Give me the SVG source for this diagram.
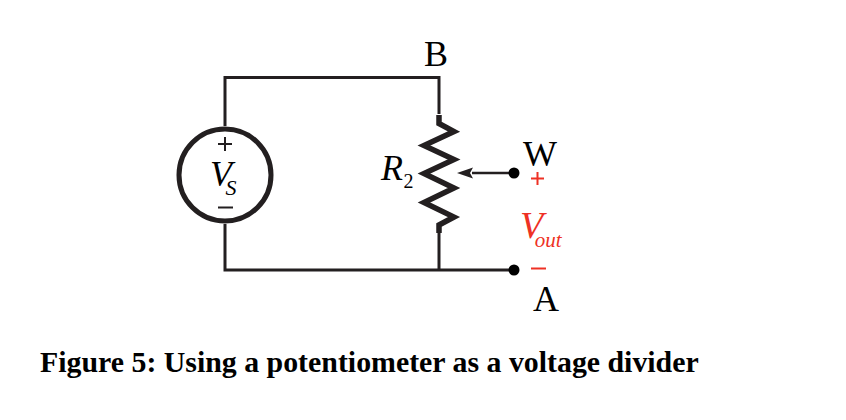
<svg xmlns="http://www.w3.org/2000/svg" width="846" height="420" viewBox="0 0 846 420">
<style>
text{font-family:"Liberation Serif","Times New Roman",serif;fill:#000}
.i{font-style:italic}
.r{fill:#ee3124}
.w{fill:none;stroke:#231f20;stroke-width:3}
</style>
<rect width="846" height="420" fill="#fff"/>
<g id="connectors">
<path class="w" d="M225 126V77.500H439V114"/>
<path class="w" d="M225 224V270H514"/>
<path class="w" d="M439 228V270"/>
<path d="M514 173H472" fill="none" stroke="#231f20" stroke-width="2.500"/>
<path d="M457 173L473 167.500L470 173L473 178.500Z" fill="#231f20"/>
</g>
<g id="source">
<circle cx="225" cy="175" r="46" fill="#fff" stroke="#231f20" stroke-width="5"/>
<path d="M218 144H232M225 137V151M218 207.500H233" fill="none" stroke="#231f20" stroke-width="2"/>
<text class="i" x="210" y="186" font-size="36" letter-spacing="-7">V</text>
<text class="i" x="225.500" y="195" font-size="22">S</text>
</g>
<g id="R2">
<path d="M439 115V123.500L454 131.500L424 145.500L454 159.500L424 173.500L454 188L424 202.500L454 217L439 225V233" fill="none" stroke="#231f20" stroke-width="5.500"/>
<text class="i" x="381" y="180" font-size="36">R</text>
<text x="403.500" y="188" font-size="20">2</text>
</g>
<g id="W">
<circle cx="514" cy="173" r="5.500" fill="#000"/>
<text x="523" y="166" font-size="36">W</text>
<path d="M531 178.500H544M537.500 172V185" fill="none" stroke="#ee3124" stroke-width="2"/>
</g>
<g id="A">
<circle cx="514" cy="270" r="5.500" fill="#000"/>
<path d="M531 268.500H546" fill="none" stroke="#ee3124" stroke-width="2"/>
<text x="533" y="311" font-size="36">A</text>
</g>
<g id="B"><text x="424" y="66" font-size="36">B</text></g>
<g id="Vout">
<text class="i r" x="520" y="238" font-size="38" letter-spacing="-8.500">V</text>
<text class="i r" x="534.800" y="247" font-size="21">out</text>
</g>
<g id="caption"><text x="40" y="372" font-size="29.850" font-weight="bold">Figure 5: Using a potentiometer as a voltage divider</text></g>
</svg>
